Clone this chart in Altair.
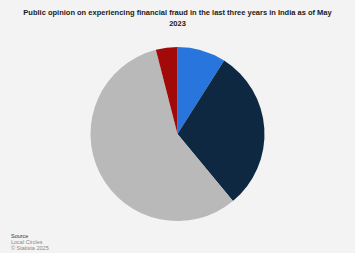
import altair as alt
import pandas as pd

categories = ["Yes, personally", "Yes, a family member", "No", "Can't say"]
shares = [9, 30, 57, 4]
colors = ["#2876dd", "#0f2841", "#b9b9b9", "#a20a0a"]

title_lines = ["Public opinion on experiencing financial fraud in the last three years in India as of May", "2023"]
source_lines = ["Source", "Local Circles", "© Statista 2025"]

df = pd.DataFrame({"category": categories, "share": shares, "order": list(range(len(categories)))})

pie = alt.Chart(df).mark_arc(radius=87, stroke=None).encode(
    theta=alt.Theta("share:Q", stack=True),
    order=alt.Order("order:Q"),
    color=alt.Color("category:N", scale=alt.Scale(domain=categories, range=colors), legend=None),
    x=alt.value(177.5),
    y=alt.value(134),
)

t1 = alt.Chart(pd.DataFrame({"t": [title_lines[0]]})).mark_text(
    font="Liberation Sans", fontWeight="bold", fontSize=7.5, color="#1a1a1a", align="center", baseline="middle"
).encode(text="t:N", x=alt.value(177.5), y=alt.value(13))
t2 = alt.Chart(pd.DataFrame({"t": [title_lines[1]]})).mark_text(
    font="Liberation Sans", fontWeight="bold", fontSize=7.5, color="#1a1a1a", align="center", baseline="middle"
).encode(text="t:N", x=alt.value(177.5), y=alt.value(24))

s1 = alt.Chart(pd.DataFrame({"t": [source_lines[0]]})).mark_text(
    font="Liberation Sans", fontSize=5.5, color="#333333", align="left", baseline="middle"
).encode(text="t:N", x=alt.value(11), y=alt.value(236))
s2 = alt.Chart(pd.DataFrame({"t": [source_lines[1]]})).mark_text(
    font="Liberation Sans", fontSize=5.5, color="#888888", align="left", baseline="middle"
).encode(text="t:N", x=alt.value(11), y=alt.value(242))
s3 = alt.Chart(pd.DataFrame({"t": [source_lines[2]]})).mark_text(
    font="Liberation Sans", fontSize=5.5, color="#888888", align="left", baseline="middle"
).encode(text="t:N", x=alt.value(11), y=alt.value(248))

chart = alt.layer(pie, t1, t2, s1, s2, s3).properties(
    width=355, height=253, background="#f3f3f3",
    autosize=alt.AutoSizeParams(type="none"), padding=0,
).configure_view(stroke=None)

chart.save("out.html", embed_options={"renderer": "svg", "actions": False})
